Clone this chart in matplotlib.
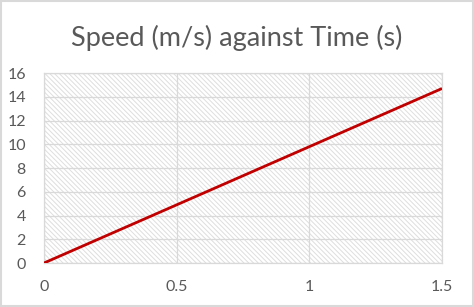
import matplotlib.pyplot as plt
from matplotlib.patches import Rectangle

# time (s) and speed (m/s)
time = [0, 0.5, 1.0, 1.5]
speed = [0, 4.9, 9.8, 14.7]

x_ticks = [0, 0.5, 1, 1.5]
x_labels = ['0', '0.5', '1', '1.5']
y_ticks = [0, 2, 4, 6, 8, 10, 12, 14, 16]

plt.rcParams['font.family'] = ['Lato', 'DejaVu Sans']
plt.rcParams['hatch.linewidth'] = 0.7
plt.rcParams['hatch.color'] = '#dedede'

grey = '#595959'
fig = plt.figure(figsize=(4.74, 3.07), dpi=100)
ax = fig.add_axes([0.0928, 0.1433, 0.8397, 0.6187])

# hatched plot area
ax.add_patch(Rectangle((0, 0), 1, 1, transform=ax.transAxes, facecolor='white',
                       edgecolor='#dedede', hatch='\\' * 7, linewidth=0, zorder=0))

ax.plot(time, speed, color='#c00000', linewidth=2.0, zorder=3, solid_capstyle='butt')

ax.set_xlim(0, 1.5)
ax.set_ylim(0, 16)
ax.set_xticks(x_ticks)
ax.set_xticklabels(x_labels)
ax.set_yticks(y_ticks)
ax.grid(True, color='#d9d9d9', linewidth=0.9, zorder=1)
ax.set_axisbelow(True)
for s in ax.spines.values():
    s.set_color('#d9d9d9')
    s.set_linewidth(0.9)
ax.tick_params(length=0, colors=grey, labelsize=11.5)
ax.tick_params(axis='x', pad=12)
ax.tick_params(axis='y', pad=13)

fig.text(0.5, 0.875, 'Speed (m/s) against Time (s)', ha='center', va='center',
         fontsize=19.5, color=grey)

# thin border round the chart
fig.patches.append(Rectangle((0.002, 0.003), 0.996, 0.994, transform=fig.transFigure,
                             fill=False, edgecolor='#d9d9d9', linewidth=1.5))

fig.savefig('out.png', dpi=100)
